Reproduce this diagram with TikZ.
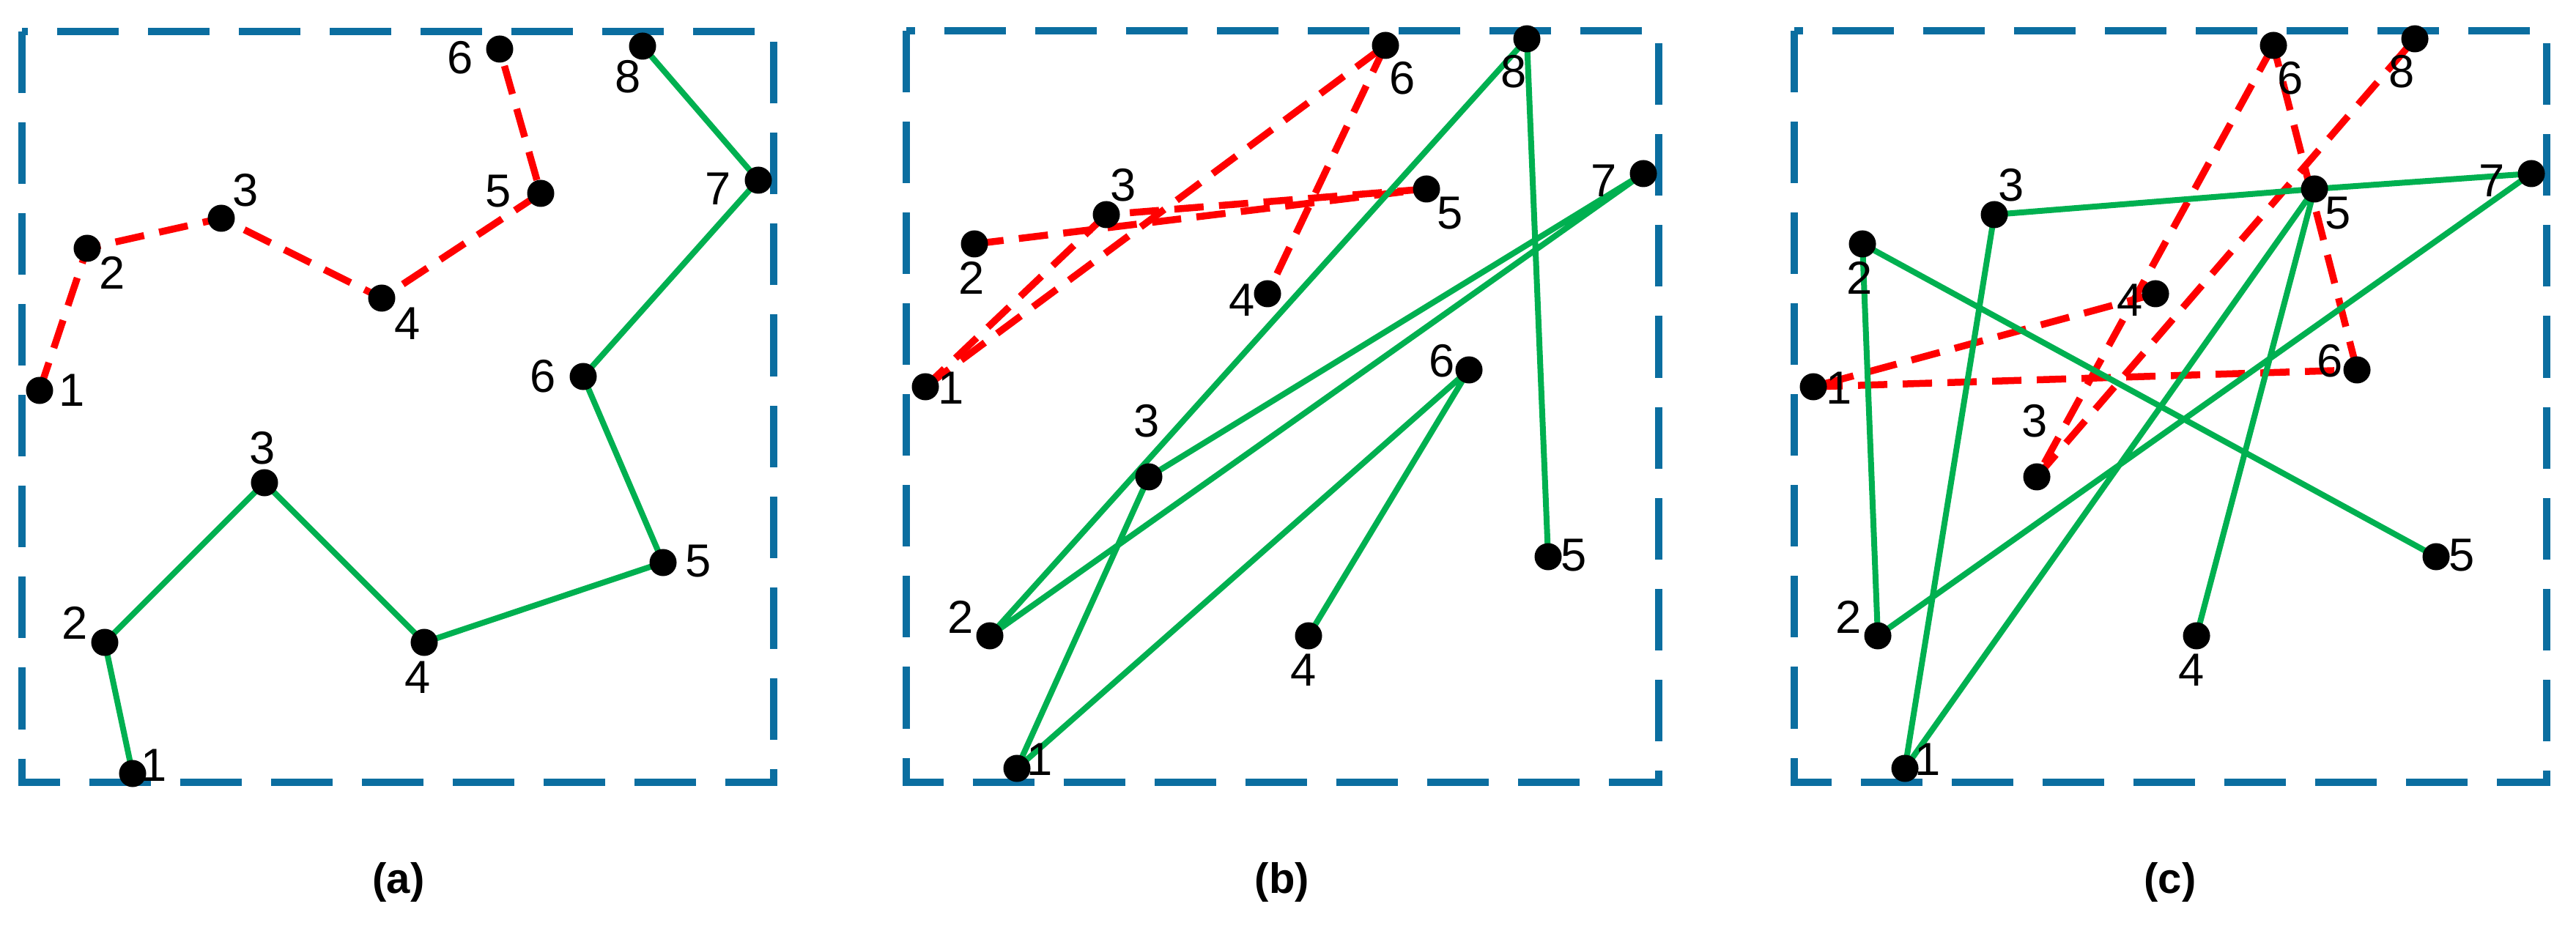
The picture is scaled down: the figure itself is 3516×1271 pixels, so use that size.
\documentclass[tikz,border=0pt]{standalone}
\usepackage{fontspec}
\setmainfont{Liberation Sans}
\pgfdeclarelayer{bg}
\pgfsetlayers{bg,main}
\definecolor{boxblue}{RGB}{11,110,160}
\definecolor{routegreen}{RGB}{0,176,80}
\definecolor{routered}{RGB}{255,0,0}
\tikzset{
 dot/.style={circle,fill=black,inner sep=0pt,minimum size=0.37cm},
 lab/.style={font=\fontsize{18}{20}\selectfont,inner sep=0pt},
 frame/.style={draw=boxblue,line width=1mm,dash pattern=on 0.84cm off 0.40cm},
 redroute/.style={draw=routered,line width=0.95mm,line join=round,dash pattern=on 0.40cm off 0.21cm},
 greenroute/.style={draw=routegreen,line width=0.8mm,line join=round},
 caption/.style={font=\bfseries\fontsize{16.5}{20}\selectfont,inner sep=0pt}
}
\newcommand\mkpt[6]{\node[dot] (#1) at (#2,#3) {}; \node[lab] (#1l) at (#4,#5) {#6};}
\newcommand\bcpoints[1]{%
 \mkpt{#1-r1}{26}{528}{61}{530}{1}
 \mkpt{#1-r2}{93}{333}{89}{379}{2}
 \mkpt{#1-r3}{273}{293}{296}{253}{3}
 \mkpt{#1-r4}{493}{401}{458}{410}{4}
 \mkpt{#1-r5}{710}{258}{742}{291}{5}
 \mkpt{#1-r6}{654}{62}{677}{107}{6}
 \mkpt{#1-g1}{151}{1049}{182}{1037}{1}
 \mkpt{#1-g2}{114}{868}{74}{842}{2}
 \mkpt{#1-g3}{331}{651}{328}{575}{3}
 \mkpt{#1-g4}{549}{868}{542}{915}{4}
 \mkpt{#1-g5}{876}{760}{911}{758}{5}
 \mkpt{#1-g6}{768}{505}{731}{493}{6}
 \mkpt{#1-g7}{1006}{237}{952}{247}{7}
 \mkpt{#1-g8}{847}{53}{829}{98}{8}
}
\begin{document}
\begin{tikzpicture}[x=0.01cm,y=-0.01cm]
\useasboundingbox (0,0) rectangle (3516,1271);
% ---------- panel (a)
\begin{scope}[shift={(30,0)}]
 \mkpt{a-r1}{24}{533}{68}{533}{1}
 \mkpt{a-r2}{89}{339}{123}{372}{2}
 \mkpt{a-r3}{272}{298}{305}{260}{3}
 \mkpt{a-r4}{491}{407}{526}{442}{4}
 \mkpt{a-r5}{708}{264}{650}{261}{5}
 \mkpt{a-r6}{652}{67}{598}{79}{6}
 \mkpt{a-g1}{151}{1056}{180}{1045}{1}
 \mkpt{a-g2}{113}{877}{72}{850}{2}
 \mkpt{a-g3}{331}{659}{328}{612}{3}
 \mkpt{a-g4}{549}{877}{540}{925}{4}
 \mkpt{a-g5}{875}{768}{923}{766}{5}
 \mkpt{a-g6}{766}{514}{711}{514}{6}
 \mkpt{a-g7}{1005}{246}{950}{258}{7}
 \mkpt{a-g8}{847}{63}{827}{105}{8}
 \begin{pgfonlayer}{bg}
  \draw[frame] (0,43) -- (0,1068) -- (1026,1068) -- (1026,43) -- cycle;
  \draw[redroute] (a-r1.center) -- (a-r2.center) -- (a-r3.center) -- (a-r4.center) -- (a-r5.center) -- (a-r6.center);
  \draw[greenroute] (a-g1.center) -- (a-g2.center) -- (a-g3.center) -- (a-g4.center) -- (a-g5.center) -- (a-g6.center) -- (a-g7.center) -- (a-g8.center);
 \end{pgfonlayer}
\end{scope}
% ---------- panel (b)
\begin{scope}[shift={(1237,0)}]
 \bcpoints{b}
 \begin{pgfonlayer}{bg}
  \draw[frame] (0,42) -- (0,1068) -- (1027,1068) -- (1027,42) -- cycle;
  \draw[redroute] (b-r2.center) -- (b-r5.center);
  \draw[redroute] (b-r5.center) -- (b-r3.center);
  \draw[redroute] (b-r3.center) -- (b-r1.center);
  \draw[redroute] (b-r1.center) -- (b-r6.center);
  \draw[redroute] (b-r6.center) -- (b-r4.center);
  \draw[greenroute] (b-g4.center) -- (b-g6.center) -- (b-g1.center) -- (b-g3.center) -- (b-g7.center) -- (b-g2.center) -- (b-g8.center) -- (b-g5.center);
 \end{pgfonlayer}
\end{scope}
% ---------- panel (c)
\begin{scope}[shift={(2449,0)}]
 \bcpoints{c}
 \begin{pgfonlayer}{bg}
  \draw[frame] (0,42) -- (0,1068) -- (1027,1068) -- (1027,42) -- cycle;
  \draw[redroute] (c-r4.center) -- (c-r1.center);
  \draw[redroute] (c-r1.center) -- (c-g6.center);
  \draw[redroute] (c-g6.center) -- (c-r6.center);
  \draw[redroute] (c-r6.center) -- (c-g3.center);
  \draw[redroute] (c-g3.center) -- (c-g8.center);
  \draw[greenroute] (c-g5.center) -- (c-r2.center) -- (c-g2.center) -- (c-g7.center) -- (c-r5.center) -- (c-r3.center) -- (c-g1.center) -- (c-r5.center) -- (c-g4.center);
 \end{pgfonlayer}
\end{scope}
% ---------- captions
\node[caption] (capa) at (544,1204) {(a)};
\node[caption] (capb) at (1750,1204) {(b)};
\node[caption] (capc) at (2962,1204) {(c)};
\end{tikzpicture}
\end{document}
